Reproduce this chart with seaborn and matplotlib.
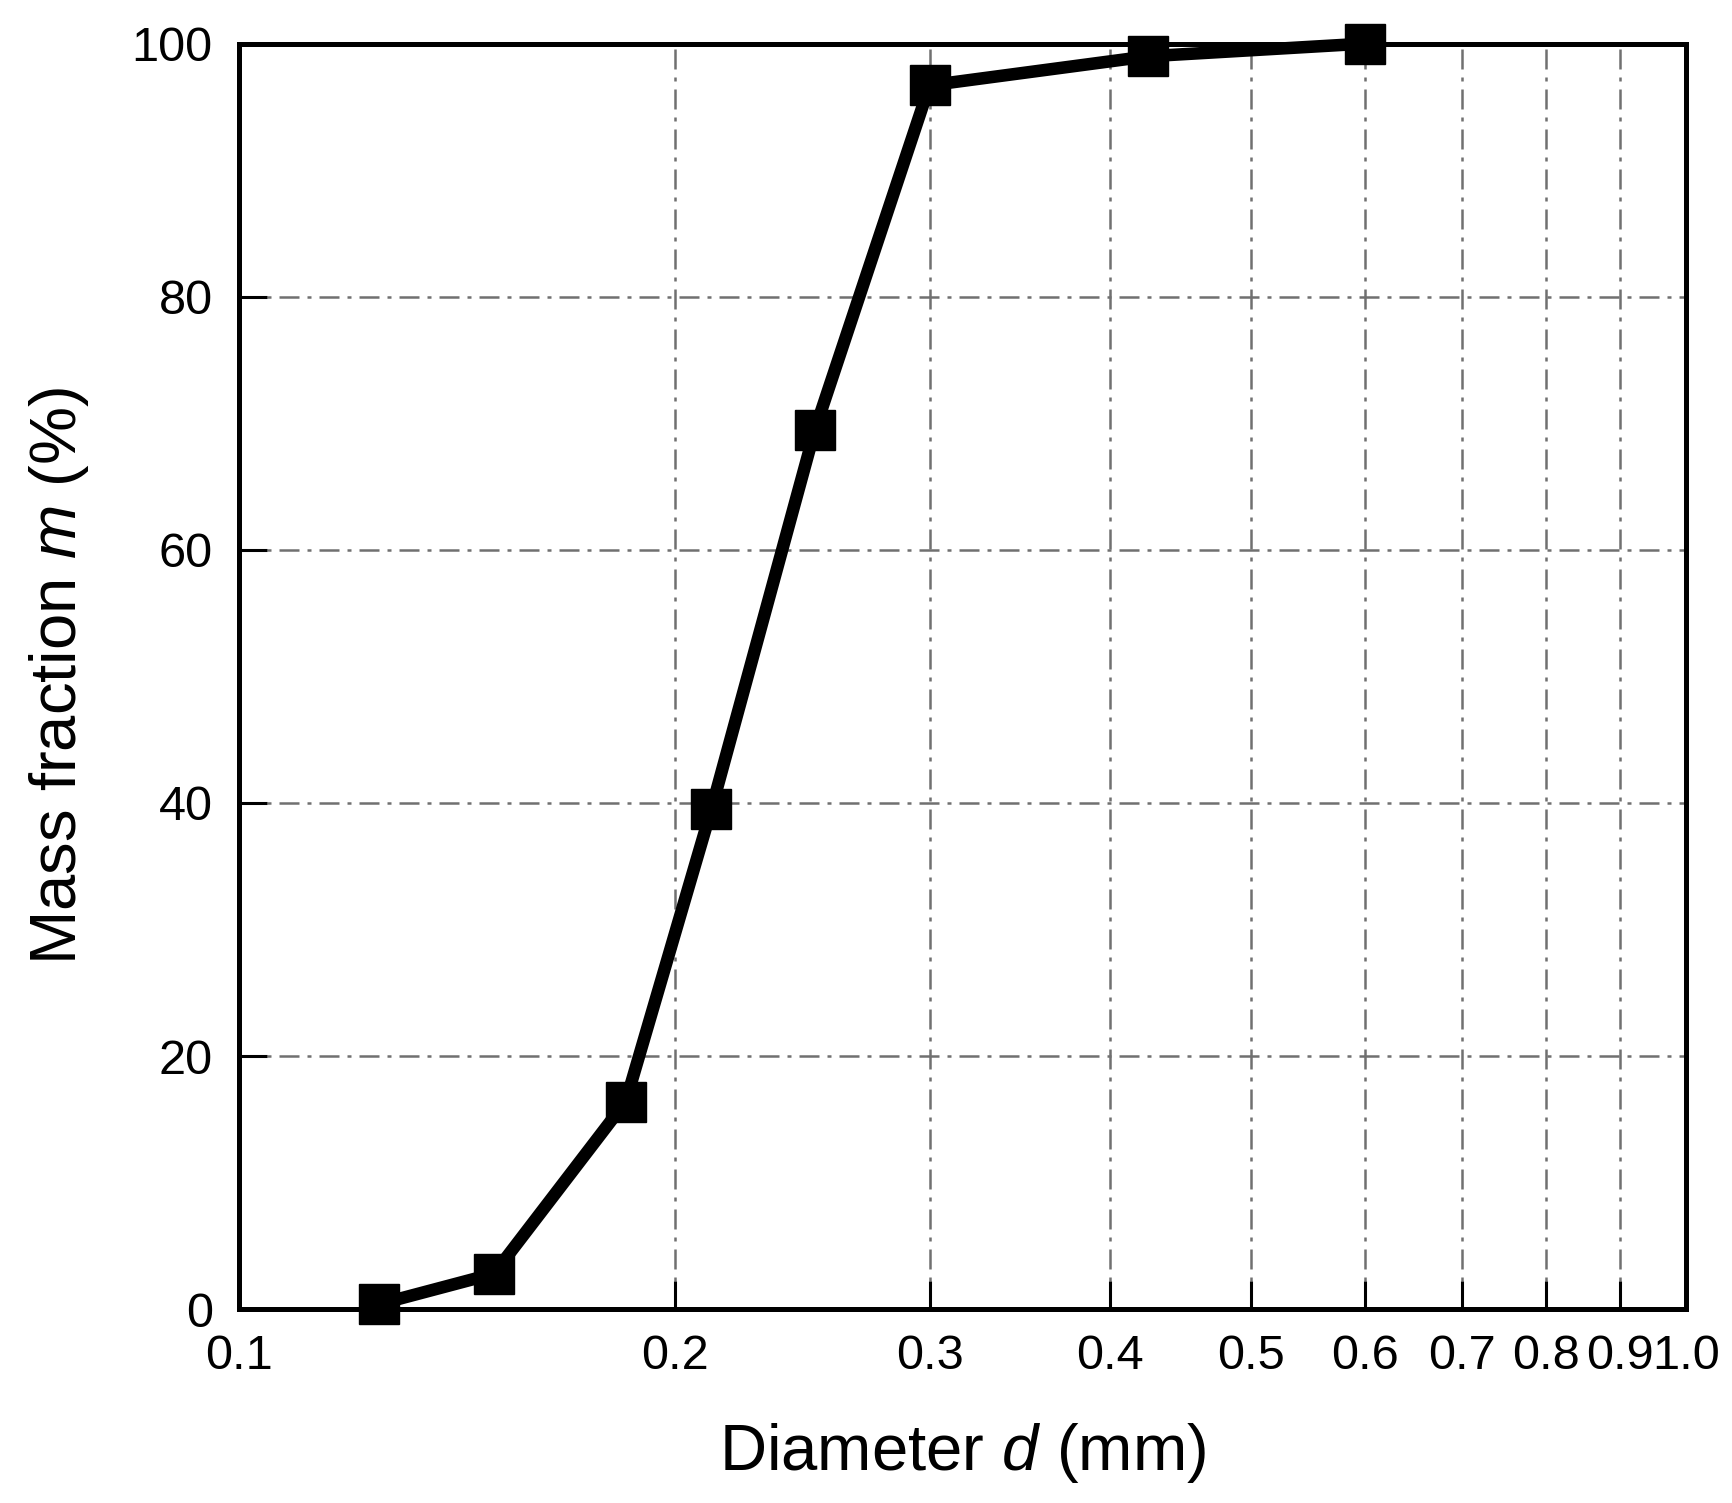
import numpy as np
import pandas as pd
import matplotlib
matplotlib.use("Agg")
import matplotlib.pyplot as plt
import seaborn as sns

# values
diameter_mm = [0.125, 0.15, 0.185, 0.212, 0.25, 0.3, 0.425, 0.6]
mass_fraction = [0.4, 2.8, 16.4, 39.5, 69.5, 96.7, 99.0, 100.0]
x_ticks = [0.1, 0.2, 0.3, 0.4, 0.5, 0.6, 0.7, 0.8, 0.9, 1.0]
x_ticklabels = ["0.1", "0.2", "0.3", "0.4", "0.5", "0.6", "0.7", "0.8", "0.9", "1.0"]
y_ticks = [0, 20, 40, 60, 80, 100]

sns.set_style("ticks")
plt.rcParams["font.family"] = ["Liberation Sans", "DejaVu Sans"]
plt.rcParams["mathtext.fontset"] = "custom"
plt.rcParams["mathtext.it"] = "Liberation Sans:italic"
plt.rcParams["mathtext.rm"] = "Liberation Sans"
plt.rcParams["text.color"] = "black"
plt.rcParams["axes.labelcolor"] = "black"
plt.rcParams["xtick.color"] = "black"
plt.rcParams["ytick.color"] = "black"

df = pd.DataFrame({"d": diameter_mm, "m": mass_fraction})

fig = plt.figure(figsize=(17.33, 15.03), dpi=100)
ax = fig.add_axes([0.138, 0.129, 0.835, 0.842])

grid_style = dict(color="#707070", linewidth=1.8, linestyle=(0, (8.0, 3.2, 1.6, 3.2)))
ax.set_xscale("log")
ax.set_xlim(0.1, 1.0)
ax.set_ylim(0, 100)
ax.set_xticks(x_ticks)
ax.set_xticklabels(x_ticklabels)
ax.xaxis.set_minor_locator(matplotlib.ticker.NullLocator())
ax.set_yticks(y_ticks)
ax.grid(True, which="major", **grid_style)
ax.set_axisbelow(True)

sns.lineplot(data=df, x="d", y="m", ax=ax, color="black", linewidth=9,
             marker="s", markersize=29, markeredgewidth=1,
             markeredgecolor="black", clip_on=False, zorder=5)

for side in ["left", "right", "top", "bottom"]:
    ax.spines[side].set_linewidth(3.6)
    ax.spines[side].set_color("black")

ax.tick_params(axis="both", which="major", direction="in", length=20, width=2.2,
               labelsize=35, pad=18, top=False, right=False, colors="black")
ax.tick_params(axis="y", pad=19)

ax.set_xlabel("Diameter $\\mathit{d}$ (mm)", fontsize=47, labelpad=30)
ax.set_ylabel("Mass fraction $\\mathit{m}$ (%)", fontsize=47, labelpad=29)

fig.savefig("out.png", dpi=100)
